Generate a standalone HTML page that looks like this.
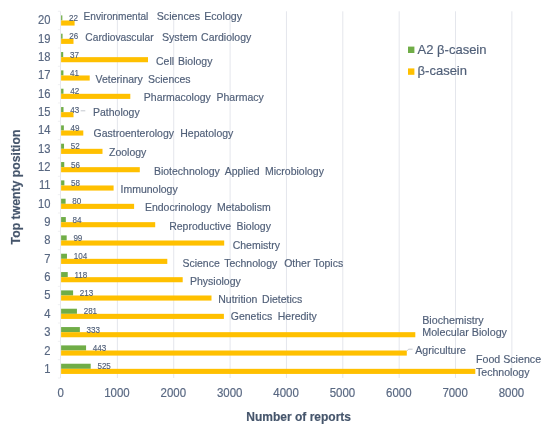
<!DOCTYPE html>
<html><head><meta charset="utf-8"><title>Top twenty position</title>
<style>
html,body{margin:0;padding:0;background:#fff;}
svg{display:block;}
text{font-family:"Liberation Sans",sans-serif;fill:#505f78;stroke:#505f78;stroke-width:0.18px;}
.t{font-size:10.5px;}
.d{font-size:9.4px;stroke-width:0.15px;}
.a{font-size:12.2px;fill:#586781;stroke:#586781;}
.b{font-size:12px;font-weight:bold;fill:#44546a;}
.b2{font-size:12.25px;}
.l{font-size:13px;}
</style></head><body>
<svg width="550" height="428" viewBox="0 0 550 428">
<rect width="550" height="428" fill="#fff"/>
<defs><filter id="soft" x="0" y="0" width="550" height="428" filterUnits="userSpaceOnUse"><feGaussianBlur stdDeviation="0.55"/></filter></defs>
<g filter="url(#soft)">

<line x1="117.36" y1="11.30" x2="117.36" y2="378.00" stroke="#e4e6ec" stroke-width="1"/>
<line x1="173.72" y1="11.30" x2="173.72" y2="378.00" stroke="#e4e6ec" stroke-width="1"/>
<line x1="230.08" y1="11.30" x2="230.08" y2="378.00" stroke="#e4e6ec" stroke-width="1"/>
<line x1="286.44" y1="11.30" x2="286.44" y2="378.00" stroke="#e4e6ec" stroke-width="1"/>
<line x1="342.80" y1="11.30" x2="342.80" y2="378.00" stroke="#e4e6ec" stroke-width="1"/>
<line x1="399.16" y1="11.30" x2="399.16" y2="378.00" stroke="#e4e6ec" stroke-width="1"/>
<line x1="455.52" y1="11.30" x2="455.52" y2="378.00" stroke="#e4e6ec" stroke-width="1"/>
<line x1="511.88" y1="11.30" x2="511.88" y2="378.00" stroke="#e4e6ec" stroke-width="1"/>
<line x1="60.50" y1="11.30" x2="60.50" y2="378.00" stroke="#e6e8ec" stroke-width="1"/>
<line x1="57.90" y1="11.30" x2="60.50" y2="11.30" stroke="#ebecef" stroke-width="0.8"/>
<line x1="57.90" y1="29.64" x2="60.50" y2="29.64" stroke="#ebecef" stroke-width="0.8"/>
<line x1="57.90" y1="47.97" x2="60.50" y2="47.97" stroke="#ebecef" stroke-width="0.8"/>
<line x1="57.90" y1="66.31" x2="60.50" y2="66.31" stroke="#ebecef" stroke-width="0.8"/>
<line x1="57.90" y1="84.64" x2="60.50" y2="84.64" stroke="#ebecef" stroke-width="0.8"/>
<line x1="57.90" y1="102.98" x2="60.50" y2="102.98" stroke="#ebecef" stroke-width="0.8"/>
<line x1="57.90" y1="121.31" x2="60.50" y2="121.31" stroke="#ebecef" stroke-width="0.8"/>
<line x1="57.90" y1="139.65" x2="60.50" y2="139.65" stroke="#ebecef" stroke-width="0.8"/>
<line x1="57.90" y1="157.98" x2="60.50" y2="157.98" stroke="#ebecef" stroke-width="0.8"/>
<line x1="57.90" y1="176.32" x2="60.50" y2="176.32" stroke="#ebecef" stroke-width="0.8"/>
<line x1="57.90" y1="194.65" x2="60.50" y2="194.65" stroke="#ebecef" stroke-width="0.8"/>
<line x1="57.90" y1="212.99" x2="60.50" y2="212.99" stroke="#ebecef" stroke-width="0.8"/>
<line x1="57.90" y1="231.32" x2="60.50" y2="231.32" stroke="#ebecef" stroke-width="0.8"/>
<line x1="57.90" y1="249.66" x2="60.50" y2="249.66" stroke="#ebecef" stroke-width="0.8"/>
<line x1="57.90" y1="267.99" x2="60.50" y2="267.99" stroke="#ebecef" stroke-width="0.8"/>
<line x1="57.90" y1="286.33" x2="60.50" y2="286.33" stroke="#ebecef" stroke-width="0.8"/>
<line x1="57.90" y1="304.66" x2="60.50" y2="304.66" stroke="#ebecef" stroke-width="0.8"/>
<line x1="57.90" y1="323.00" x2="60.50" y2="323.00" stroke="#ebecef" stroke-width="0.8"/>
<line x1="57.90" y1="341.33" x2="60.50" y2="341.33" stroke="#ebecef" stroke-width="0.8"/>
<line x1="57.90" y1="359.67" x2="60.50" y2="359.67" stroke="#ebecef" stroke-width="0.8"/>
<line x1="57.90" y1="378.00" x2="60.50" y2="378.00" stroke="#ebecef" stroke-width="0.8"/>
<rect x="61.10" y="15.37" width="1.24" height="5.10" fill="#70ad47"/>
<rect x="61.10" y="20.47" width="13.50" height="5.10" fill="#ffc000"/>
<rect x="61.10" y="33.70" width="1.47" height="5.10" fill="#70ad47"/>
<rect x="61.10" y="38.80" width="12.40" height="5.10" fill="#ffc000"/>
<rect x="61.10" y="52.04" width="2.09" height="5.10" fill="#70ad47"/>
<rect x="61.10" y="57.14" width="86.90" height="5.10" fill="#ffc000"/>
<rect x="61.10" y="70.37" width="2.31" height="5.10" fill="#70ad47"/>
<rect x="61.10" y="75.47" width="28.60" height="5.10" fill="#ffc000"/>
<rect x="61.10" y="88.71" width="2.37" height="5.10" fill="#70ad47"/>
<rect x="61.10" y="93.81" width="69.20" height="5.10" fill="#ffc000"/>
<rect x="61.10" y="107.04" width="2.42" height="5.10" fill="#70ad47"/>
<rect x="61.10" y="112.14" width="12.40" height="5.10" fill="#ffc000"/>
<rect x="61.10" y="125.38" width="2.76" height="5.10" fill="#70ad47"/>
<rect x="61.10" y="130.48" width="22.20" height="5.10" fill="#ffc000"/>
<rect x="61.10" y="143.71" width="2.93" height="5.10" fill="#70ad47"/>
<rect x="61.10" y="148.81" width="41.40" height="5.10" fill="#ffc000"/>
<rect x="61.10" y="162.05" width="3.16" height="5.10" fill="#70ad47"/>
<rect x="61.10" y="167.15" width="78.70" height="5.10" fill="#ffc000"/>
<rect x="61.10" y="180.38" width="3.27" height="5.10" fill="#70ad47"/>
<rect x="61.10" y="185.48" width="52.50" height="5.10" fill="#ffc000"/>
<rect x="61.10" y="198.72" width="4.51" height="5.10" fill="#70ad47"/>
<rect x="61.10" y="203.82" width="73.00" height="5.10" fill="#ffc000"/>
<rect x="61.10" y="217.05" width="4.73" height="5.10" fill="#70ad47"/>
<rect x="61.10" y="222.15" width="94.10" height="5.10" fill="#ffc000"/>
<rect x="61.10" y="235.39" width="5.58" height="5.10" fill="#70ad47"/>
<rect x="61.10" y="240.49" width="163.10" height="5.10" fill="#ffc000"/>
<rect x="61.10" y="253.72" width="5.86" height="5.10" fill="#70ad47"/>
<rect x="61.10" y="258.82" width="106.20" height="5.10" fill="#ffc000"/>
<rect x="61.10" y="272.06" width="6.65" height="5.10" fill="#70ad47"/>
<rect x="61.10" y="277.16" width="121.60" height="5.10" fill="#ffc000"/>
<rect x="61.10" y="290.39" width="12.00" height="5.10" fill="#70ad47"/>
<rect x="61.10" y="295.49" width="150.40" height="5.10" fill="#ffc000"/>
<rect x="61.10" y="308.73" width="15.84" height="5.10" fill="#70ad47"/>
<rect x="61.10" y="313.83" width="162.80" height="5.10" fill="#ffc000"/>
<rect x="61.10" y="327.06" width="18.77" height="5.10" fill="#70ad47"/>
<rect x="61.10" y="332.16" width="354.20" height="5.10" fill="#ffc000"/>
<rect x="61.10" y="345.40" width="24.97" height="5.10" fill="#70ad47"/>
<rect x="61.10" y="350.50" width="345.70" height="5.10" fill="#ffc000"/>
<rect x="61.10" y="363.73" width="29.59" height="5.10" fill="#70ad47"/>
<rect x="61.10" y="368.83" width="414.20" height="5.10" fill="#ffc000"/>
<line x1="80.7" y1="110.8" x2="85.3" y2="110.8" stroke="#b4b9c2" stroke-width="0.8"/>
<polyline points="407.3,350.8 408.5,349.2 412.6,349.2" fill="none" stroke="#b4b9c2" stroke-width="0.8"/>
<text class="d" transform="translate(69.04,21.07) scale(0.86,1)">22</text>
<text class="d" transform="translate(69.27,39.40) scale(0.86,1)">26</text>
<text class="d" transform="translate(69.89,57.74) scale(0.86,1)">37</text>
<text class="d" transform="translate(70.11,76.07) scale(0.86,1)">41</text>
<text class="d" transform="translate(70.17,94.41) scale(0.86,1)">42</text>
<text class="d" transform="translate(70.22,112.74) scale(0.86,1)">43</text>
<text class="d" transform="translate(70.56,131.08) scale(0.86,1)">49</text>
<text class="d" transform="translate(70.73,149.41) scale(0.86,1)">52</text>
<text class="d" transform="translate(70.96,167.75) scale(0.86,1)">56</text>
<text class="d" transform="translate(71.07,186.08) scale(0.86,1)">58</text>
<text class="d" transform="translate(72.31,204.42) scale(0.86,1)">80</text>
<text class="d" transform="translate(72.53,222.75) scale(0.86,1)">84</text>
<text class="d" transform="translate(73.38,241.09) scale(0.86,1)">99</text>
<text class="d" transform="translate(73.66,259.42) scale(0.86,1)">104</text>
<text class="d" transform="translate(74.45,277.76) scale(0.86,1)">118</text>
<text class="d" transform="translate(79.80,296.09) scale(0.86,1)">213</text>
<text class="d" transform="translate(83.64,314.43) scale(0.86,1)">281</text>
<text class="d" transform="translate(86.57,332.76) scale(0.86,1)">333</text>
<text class="d" transform="translate(92.77,351.10) scale(0.86,1)">443</text>
<text class="d" transform="translate(97.39,369.43) scale(0.86,1)">525</text>
<text class="a" transform="translate(50.6,24.47) scale(0.92,1)" text-anchor="end">20</text>
<text class="a" transform="translate(50.6,42.80) scale(0.92,1)" text-anchor="end">19</text>
<text class="a" transform="translate(50.6,61.14) scale(0.92,1)" text-anchor="end">18</text>
<text class="a" transform="translate(50.6,79.47) scale(0.92,1)" text-anchor="end">17</text>
<text class="a" transform="translate(50.6,97.81) scale(0.92,1)" text-anchor="end">16</text>
<text class="a" transform="translate(50.6,116.14) scale(0.92,1)" text-anchor="end">15</text>
<text class="a" transform="translate(50.6,134.48) scale(0.92,1)" text-anchor="end">14</text>
<text class="a" transform="translate(50.6,152.81) scale(0.92,1)" text-anchor="end">13</text>
<text class="a" transform="translate(50.6,171.15) scale(0.92,1)" text-anchor="end">12</text>
<text class="a" transform="translate(50.6,189.48) scale(0.92,1)" text-anchor="end">11</text>
<text class="a" transform="translate(50.6,207.82) scale(0.92,1)" text-anchor="end">10</text>
<text class="a" transform="translate(50.6,226.15) scale(0.92,1)" text-anchor="end">9</text>
<text class="a" transform="translate(50.6,244.49) scale(0.92,1)" text-anchor="end">8</text>
<text class="a" transform="translate(50.6,262.82) scale(0.92,1)" text-anchor="end">7</text>
<text class="a" transform="translate(50.6,281.16) scale(0.92,1)" text-anchor="end">6</text>
<text class="a" transform="translate(50.6,299.49) scale(0.92,1)" text-anchor="end">5</text>
<text class="a" transform="translate(50.6,317.83) scale(0.92,1)" text-anchor="end">4</text>
<text class="a" transform="translate(50.6,336.16) scale(0.92,1)" text-anchor="end">3</text>
<text class="a" transform="translate(50.6,354.50) scale(0.92,1)" text-anchor="end">2</text>
<text class="a" transform="translate(50.6,372.83) scale(0.92,1)" text-anchor="end">1</text>
<text class="a" transform="translate(60.60,396.5) scale(0.94,1)" text-anchor="middle">0</text>
<text class="a" transform="translate(116.96,396.5) scale(0.94,1)" text-anchor="middle">1000</text>
<text class="a" transform="translate(173.32,396.5) scale(0.94,1)" text-anchor="middle">2000</text>
<text class="a" transform="translate(229.68,396.5) scale(0.94,1)" text-anchor="middle">3000</text>
<text class="a" transform="translate(286.04,396.5) scale(0.94,1)" text-anchor="middle">4000</text>
<text class="a" transform="translate(342.40,396.5) scale(0.94,1)" text-anchor="middle">5000</text>
<text class="a" transform="translate(398.76,396.5) scale(0.94,1)" text-anchor="middle">6000</text>
<text class="a" transform="translate(455.12,396.5) scale(0.94,1)" text-anchor="middle">7000</text>
<text class="a" transform="translate(511.48,396.5) scale(0.94,1)" text-anchor="middle">8000</text>
<text class="t" style="font-size:10.97px" transform="translate(83.60,20.40) scale(0.925,1)">Environmental</text>
<text class="t" style="font-size:11.57px" transform="translate(156.70,20.40) scale(0.925,1)">Sciences</text>
<text class="t" style="font-size:11.51px" transform="translate(204.20,20.40) scale(0.925,1)">Ecology</text>
<text class="t" style="font-size:11.08px" transform="translate(85.30,41.30) scale(0.925,1)">Cardiovascular</text>
<text class="t" style="font-size:11.57px" transform="translate(161.90,41.30) scale(0.925,1)">System</text>
<text class="t" style="font-size:11.35px" transform="translate(201.10,41.30) scale(0.925,1)">Cardiology</text>
<text class="t" style="font-size:11.35px" transform="translate(156.00,64.50) scale(0.925,1)">Cell</text>
<text class="t" style="font-size:11.35px" transform="translate(178.00,64.50) scale(0.925,1)">Biology</text>
<text class="t" style="font-size:11.35px" transform="translate(95.60,82.90) scale(0.925,1)">Veterinary</text>
<text class="t" style="font-size:11.35px" transform="translate(148.00,82.90) scale(0.925,1)">Sciences</text>
<text class="t" style="font-size:11.35px" transform="translate(143.80,100.90) scale(0.925,1)">Pharmacology</text>
<text class="t" style="font-size:11.35px" transform="translate(216.50,100.90) scale(0.925,1)">Pharmacy</text>
<text class="t" style="font-size:11.35px" transform="translate(93.00,116.30) scale(0.925,1)">Pathology</text>
<text class="t" style="font-size:11.35px" transform="translate(93.50,137.40) scale(0.925,1)">Gastroenterology</text>
<text class="t" style="font-size:11.35px" transform="translate(180.30,137.40) scale(0.925,1)">Hepatology</text>
<text class="t" style="font-size:11.35px" transform="translate(109.00,156.10) scale(0.925,1)">Zoology</text>
<text class="t" style="font-size:11.35px" transform="translate(153.90,174.90) scale(0.925,1)">Biotechnology</text>
<text class="t" style="font-size:11.35px" transform="translate(224.70,174.90) scale(0.925,1)">Applied</text>
<text class="t" style="font-size:11.35px" transform="translate(265.00,174.90) scale(0.925,1)">Microbiology</text>
<text class="t" style="font-size:11.35px" transform="translate(120.50,192.90) scale(0.925,1)">Immunology</text>
<text class="t" style="font-size:11.35px" transform="translate(144.90,211.30) scale(0.925,1)">Endocrinology</text>
<text class="t" style="font-size:11.35px" transform="translate(217.00,211.30) scale(0.925,1)">Metabolism</text>
<text class="t" style="font-size:11.35px" transform="translate(169.20,229.90) scale(0.925,1)">Reproductive</text>
<text class="t" style="font-size:11.35px" transform="translate(236.50,229.90) scale(0.925,1)">Biology</text>
<text class="t" style="font-size:11.35px" transform="translate(232.70,248.60) scale(0.925,1)">Chemistry</text>
<text class="t" style="font-size:11.35px" transform="translate(182.40,266.50) scale(0.925,1)">Science</text>
<text class="t" style="font-size:11.35px" transform="translate(224.20,266.50) scale(0.925,1)">Technology</text>
<text class="t" style="font-size:11.35px" transform="translate(284.20,266.50) scale(0.925,1)">Other</text>
<text class="t" style="font-size:11.35px" transform="translate(313.40,266.50) scale(0.925,1)">Topics</text>
<text class="t" style="font-size:11.35px" transform="translate(190.00,284.50) scale(0.925,1)">Physiology</text>
<text class="t" style="font-size:11.35px" transform="translate(218.30,303.20) scale(0.925,1)">Nutrition</text>
<text class="t" style="font-size:11.35px" transform="translate(262.10,303.20) scale(0.925,1)">Dietetics</text>
<text class="t" style="font-size:11.35px" transform="translate(230.80,320.40) scale(0.925,1)">Genetics</text>
<text class="t" style="font-size:11.35px" transform="translate(277.80,320.40) scale(0.925,1)">Heredity</text>
<text class="t" style="font-size:11.62px" transform="translate(422.20,324.20) scale(0.925,1)">Biochemistry</text>
<text class="t" style="font-size:11.62px" transform="translate(422.20,336.40) scale(0.925,1)">Molecular Biology</text>
<text class="t" style="font-size:11.46px" transform="translate(415.30,354.40) scale(0.925,1)">Agriculture</text>
<text class="t" style="font-size:11.51px" transform="translate(476.00,363.30) scale(0.925,1)">Food Science</text>
<text class="t" style="font-size:11.46px" transform="translate(476.00,376.00) scale(0.925,1)">Technology</text>
<text class="b" x="298.7" y="420.9" text-anchor="middle">Number of reports</text>
<text class="b b2" transform="translate(20.3,187) rotate(-90)" text-anchor="middle">Top twenty position</text>
<rect x="408" y="46.6" width="6.4" height="6.4" fill="#70ad47"/>
<text class="l" x="417.6" y="54.0">A2 β-casein</text>
<rect x="408" y="68.4" width="6.4" height="6.4" fill="#ffc000"/>
<text class="l" x="417.6" y="74.8">β-casein</text>
</g></svg></body></html>
